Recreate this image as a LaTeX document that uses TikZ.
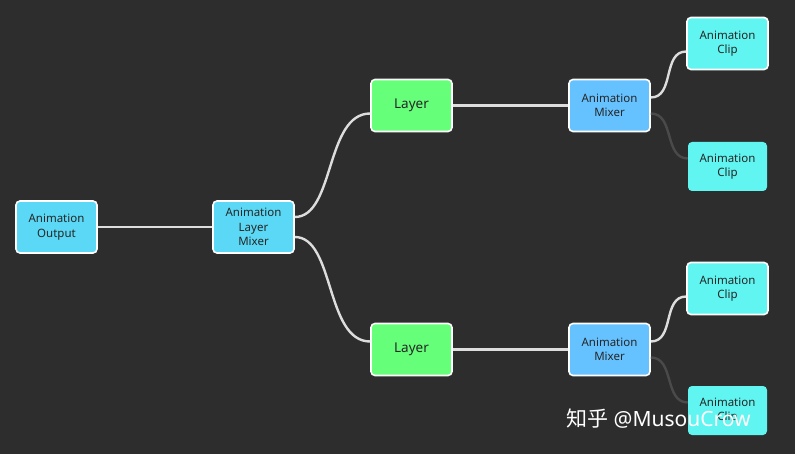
\documentclass[tikz,border=0pt]{standalone}
\usepackage{fontspec}
\setmainfont{Noto Sans}
\newfontfamily\cjk{Noto Sans CJK SC}
\definecolor{bg}{HTML}{2D2D2D}
\definecolor{cyanA}{HTML}{5AD8F5}
\definecolor{clip}{HTML}{60F5F0}
\definecolor{mix}{HTML}{66C2FF}
\definecolor{lay}{HTML}{66FF7A}
\definecolor{wire}{HTML}{DDDDDD}
\definecolor{dim}{HTML}{4A4A4A}
\begin{document}
\begin{tikzpicture}[x=1pt,y=-1pt,
  box/.style={rounded corners=4pt,minimum width=81pt,minimum height=52pt,align=center,font=\fontsize{11.5}{14.5}\selectfont,text=black!85,inner sep=1pt},
  act/.style={box,draw=white,line width=1.6pt},
  idle/.style={box,minimum width=79pt,minimum height=49pt},
  on/.style={draw=wire,line width=2.4pt},
  off/.style={draw=dim,line width=2.4pt}]
\fill[bg] (0,0) rectangle (795,454);
\useasboundingbox (0,0) rectangle (795,454);
\node[act,fill=cyanA] (out) at (56.5,227) {Animation\\Output};
\node[act,fill=cyanA] (lm) at (253.5,227) {Animation\\Layer\\Mixer};
\node[act,fill=lay,font=\fontsize{13.5}{15}\selectfont] (l1) at (411.5,105.5) {Layer};
\node[act,fill=lay,font=\fontsize{13.5}{15}\selectfont] (l2) at (411.5,349.5) {Layer};
\node[act,fill=mix] (m1) at (609.5,105.5) {Animation\\Mixer};
\node[act,fill=mix] (m2) at (609.5,349.5) {Animation\\Mixer};
\node[act,fill=clip] (c1) at (727.5,43.5) {Animation\\Clip};
\node[idle,fill=clip] (c2) at (727.5,166.5) {Animation\\Clip};
\node[act,fill=clip] (c3) at (727.5,288.5) {Animation\\Clip};
\node[idle,fill=clip] (c4) at (727.5,410.5) {Animation\\Clip};
\draw[on] (out.east) -- (lm.west);
\draw[on] ([yshift=10pt]lm.east) .. controls +(40,0) and +(-45,0) .. ([yshift=-8pt]l1.west);
\draw[on] ([yshift=-10pt]lm.east) .. controls +(40,0) and +(-45,0) .. ([yshift=8pt]l2.west);
\draw[on] (l1.east) -- (m1.west);
\draw[on] (l2.east) -- (m2.west);
\draw[on] ([yshift=8pt]m1.east) .. controls +(24,0) and +(-24,0) .. ([yshift=-8pt]c1.west);
\draw[off] ([yshift=-8pt]m1.east) .. controls +(24,0) and +(-24,0) .. ([yshift=8pt]c2.west);
\draw[on] ([yshift=8pt]m2.east) .. controls +(24,0) and +(-24,0) .. ([yshift=-8pt]c3.west);
\draw[off] ([yshift=-8pt]m2.east) .. controls +(24,0) and +(-24,0) .. ([yshift=8pt]c4.west);
\node[anchor=west,text=white,font=\fontsize{21}{24}\selectfont,inner sep=0] (wm) at (566,419) {{\cjk 知乎} @MusouCrow};
\end{tikzpicture}
\end{document}
